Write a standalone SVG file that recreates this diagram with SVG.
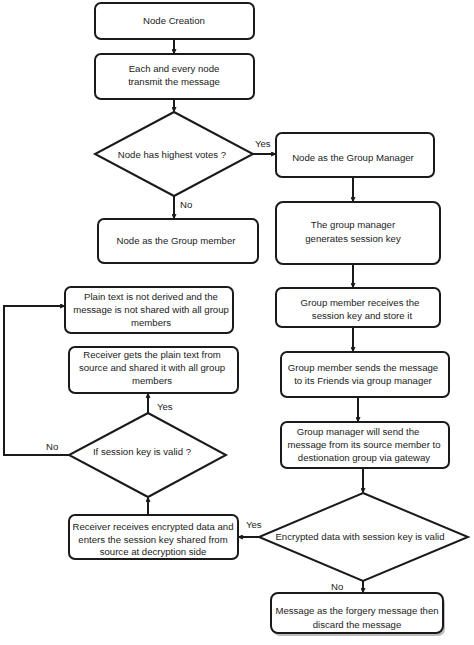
<svg xmlns="http://www.w3.org/2000/svg" width="474" height="645" viewBox="0 0 474 645">
<style>
.box{fill:#fff;stroke:#1a1a1a;stroke-width:2}
.dia{fill:#fff;stroke:#1a1a1a;stroke-width:2;stroke-linejoin:miter}
.t{font-family:"Liberation Sans",Arial,sans-serif;font-size:9.6px;fill:#222;text-anchor:middle}
.lbl{font-family:"Liberation Sans",Arial,sans-serif;font-size:9.6px;fill:#222}
.c{fill:none;stroke:#1a1a1a;stroke-width:2}
</style>
<defs>
<marker id="ah" viewBox="0 0 10 10" refX="9" refY="5" markerWidth="5" markerHeight="5" orient="auto" markerUnits="userSpaceOnUse">
<path d="M1,1 L9,5 L1,9" fill="none" stroke="#1a1a1a" stroke-width="2.4"/>
</marker>
</defs>
<rect width="474" height="645" fill="#fff"/>
<g id="connectors">
<path class="c" d="M174,39 V53" marker-end="url(#ah)"/>
<path class="c" d="M174,99 V111" marker-end="url(#ah)"/>
<path class="c" d="M253,154 H275" marker-end="url(#ah)"/>
<path class="c" d="M174,196 V218" marker-end="url(#ah)"/>
<path class="c" d="M353,177 V201" marker-end="url(#ah)"/>
<path class="c" d="M353,264 V287" marker-end="url(#ah)"/>
<path class="c" d="M353,327 V351" marker-end="url(#ah)"/>
<path class="c" d="M358,397 V421" marker-end="url(#ah)"/>
<path class="c" d="M363,468 V492" marker-end="url(#ah)"/>
<path class="c" d="M363,581 V592" marker-end="url(#ah)"/>
<path class="c" d="M259,537 H239" marker-end="url(#ah)"/>
<path class="c" d="M148,515 V498" marker-end="url(#ah)"/>
<path class="c" d="M148,413 V394" marker-end="url(#ah)"/>
<path class="c" d="M69,455 H4 V306 H64" marker-end="url(#ah)"/>
<text class="lbl" x="255" y="147">Yes</text>
<text class="lbl" x="180" y="208">No</text>
<text class="lbl" x="157" y="410">Yes</text>
<text class="lbl" x="46" y="450">No</text>
<text class="lbl" x="246" y="528">Yes</text>
<text class="lbl" x="331" y="590">No</text>
</g>
<g id="n1"><rect class="box" x="95" y="3" width="159" height="36" rx="6"/><text class="t" x="174" y="24">Node Creation</text></g>
<g id="n2"><rect class="box" x="95" y="54" width="159" height="45" rx="6"/><text class="t" x="174" y="72">Each and every node</text><text class="t" x="174" y="85">transmit the message</text></g>
<g id="d1"><polygon class="dia" points="174,112 253,154 174,196 95,154"/><text class="t" x="172" y="158">Node has highest votes ?</text></g>
<g id="n3"><rect class="box" x="276" y="133" width="158" height="44" rx="6"/><text class="t" x="353" y="161">Node as the Group Manager</text></g>
<g id="n4"><rect class="box" x="98" y="219" width="160" height="44" rx="6"/><text class="t" x="176" y="244">Node as the Group member</text></g>
<g id="n5"><rect class="box" x="276" y="202" width="164" height="62" rx="7"/><text class="t" x="353" y="228">The group manager</text><text class="t" x="353" y="242">generates session key</text></g>
<g id="n6"><rect class="box" x="276" y="288" width="164" height="39" rx="6"/><text class="t" x="360" y="306">Group member receives the</text><text class="t" x="362" y="319">session key and store it</text></g>
<g id="n7"><rect class="box" x="65" y="287" width="168" height="46" rx="6"/><text class="t" x="151" y="300">Plain text is not derived and the</text><text class="t" x="151" y="313">message is not shared with all group</text><text class="t" x="151" y="326">members</text></g>
<g id="n8"><rect class="box" x="69" y="347" width="169" height="46" rx="6"/><text class="t" x="152" y="358">Receiver gets the plain text from</text><text class="t" x="152" y="371">source and shared it with all group</text><text class="t" x="152" y="384">members</text></g>
<g id="n9"><rect class="box" x="281" y="352" width="168" height="45" rx="6"/><text class="t" x="363" y="371">Group member sends the message</text><text class="t" x="363" y="384">to its Friends via group manager</text></g>
<g id="n10"><rect class="box" x="281" y="422" width="168" height="46" rx="6"/><text class="t" x="358" y="435">Group manager will send the</text><text class="t" x="364" y="448">message from its source member to</text><text class="t" x="364" y="461">destionation group via gateway</text></g>
<g id="d2"><polygon class="dia" points="148,413 226,455 148,497 69,455"/><text class="t" x="142" y="455">If session key is valid ?</text></g>
<g id="n11"><rect class="box" x="69" y="515" width="169" height="44" rx="6"/><text class="t" x="153" y="530">Receiver receives encrypted data and</text><text class="t" x="153" y="543">enters the session key shared from</text><text class="t" x="153" y="555">source at decryption side</text></g>
<g id="d3"><polygon class="dia" points="363,493 468,537 363,581 259,537"/><text class="t" x="360" y="540">Encrypted data with session key is valid</text></g>
<g id="n12"><rect x="273" y="596" width="172" height="40" rx="7" fill="#bbb" stroke="none"/><rect class="box" x="271" y="593" width="172" height="40" rx="7"/><text class="t" x="357" y="614">Message as the forgery message then</text><text class="t" x="357" y="628">discard the message</text></g>
</svg>
